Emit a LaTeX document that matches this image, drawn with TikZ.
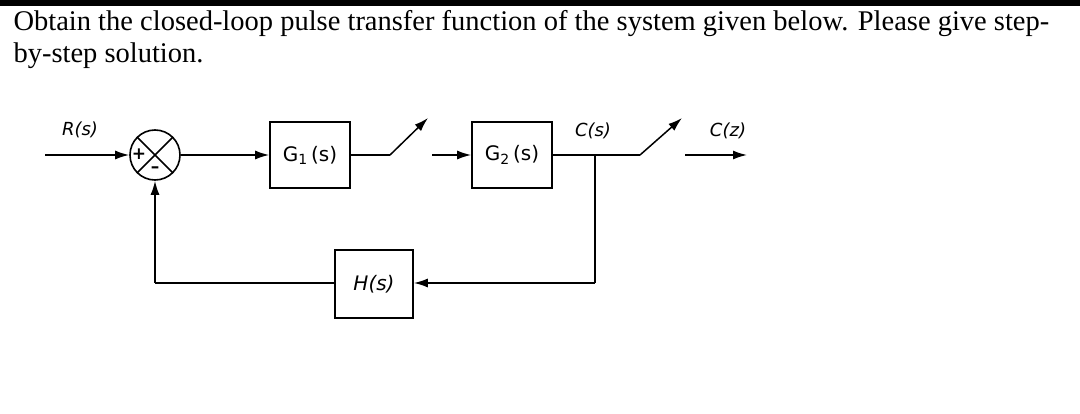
\documentclass[tikz,border=0pt]{standalone}
\usepackage{fontspec}
\setmainfont{Liberation Serif}
\setsansfont{DejaVu Sans}
\usetikzlibrary{arrows.meta}
\begin{document}
\begin{tikzpicture}[x=1pt,y=-1pt,
  blk/.style={draw,line width=1.6pt,minimum width=80pt,minimum height=66pt,inner sep=0pt,font=\sffamily\fontsize{20}{20}\selectfont},
  lbl/.style={font=\sffamily\itshape\fontsize{18}{18}\selectfont},
  sig/.style={line width=1.5pt},
  arr/.style={sig,-{Latex[length=14pt,width=9pt]}}]
\useasboundingbox (0,0) rectangle (1080,414);
\fill[black] (0,0) rectangle (1080,6);
\node[anchor=west,font=\fontsize{28.5}{28.5}\selectfont] (t1) at (10,24) {Obtain the closed-loop pulse transfer function of the system given below. Please give step-};
\node[anchor=west,font=\fontsize{28.5}{28.5}\selectfont] (t2) at (10,56) {by-step solution.};
\node[draw,circle,line width=1.6pt,minimum size=50pt,inner sep=0pt] (sum) at (155,155) {};
\draw[line width=1.6pt] (sum.north west) -- (sum.south east) (sum.north east) -- (sum.south west);
\node[font=\sffamily\bfseries\fontsize{17}{17}\selectfont] (plus) at (139,154) {+};
\node[font=\sffamily\bfseries\fontsize{17}{17}\selectfont] (minus) at (155,170) {--};
\node[blk] (g1) at (310,155) {G\textsubscript{1}\,(s)};
\node[blk] (g2) at (512,155) {G\textsubscript{2}\,(s)};
\node[blk,minimum width=78pt,minimum height=68pt] (h) at (374,284) {\itshape H(s)};
\coordinate (in) at (45,155);
\coordinate (s1a) at (390,155);
\coordinate (s1b) at (428,118);
\coordinate (s1c) at (432,155);
\coordinate (br) at (595,155);
\coordinate (s2a) at (640,155);
\coordinate (s2b) at (682,118);
\coordinate (oa) at (685,155);
\coordinate (ob) at (747,155);
\coordinate (fb1) at (595,283);
\coordinate (fb2) at (155,283);
\node[lbl] (rs) at (80,130) {R(s)};
\node[lbl] (cs) at (593,131) {C(s)};
\node[lbl] (cz) at (728,131) {C(z)};
\draw[arr] (in) -- (sum.west);
\draw[arr] (sum.east) -- (g1.west);
\draw[sig] (g1.east) -- (s1a);
\draw[arr] (s1a) -- (s1b);
\draw[arr] (s1c) -- (g2.west);
\draw[sig] (g2.east) -- (s2a);
\draw[arr] (s2a) -- (s2b);
\draw[arr] (oa) -- (ob);
\draw[sig] (br) -- (fb1);
\draw[arr] (fb1) -- (h.east |- fb1);
\draw[sig] (h.west |- fb2) -- (fb2);
\draw[arr] (fb2) -- (sum.south);
\end{tikzpicture}
\end{document}
